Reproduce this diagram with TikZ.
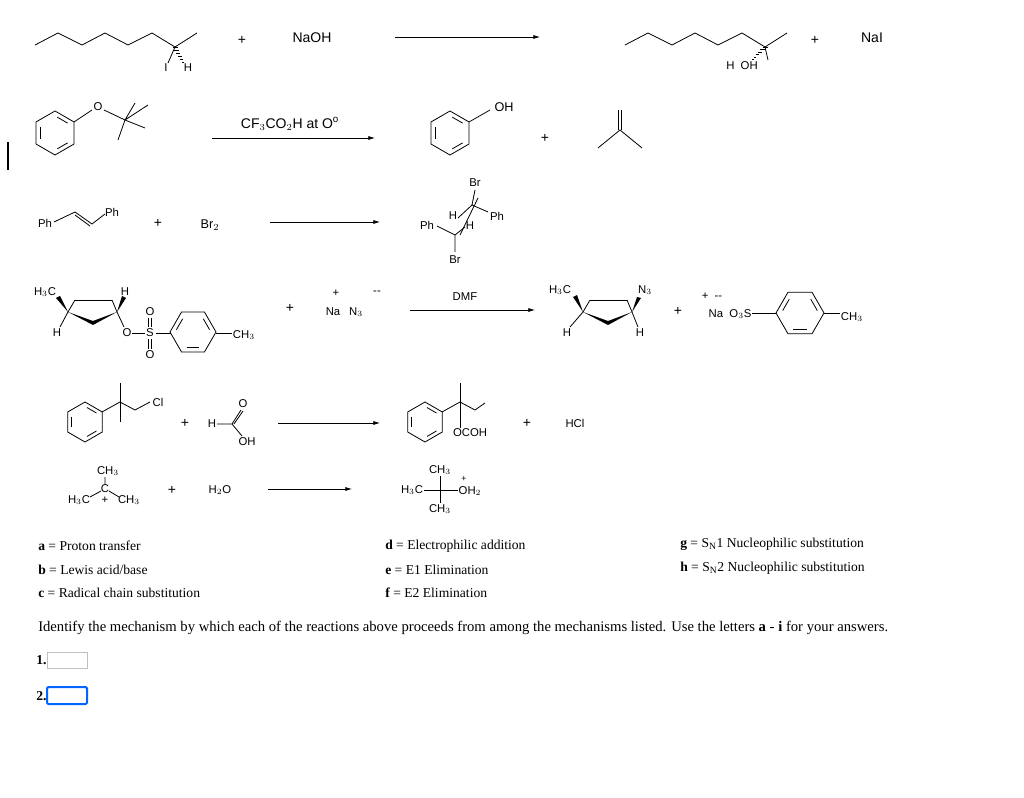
\documentclass[tikz,border=0pt]{standalone}
\usepackage{fontspec}
\setmainfont{Liberation Serif}
\newfontfamily\chem{Liberation Sans}
\usetikzlibrary{calc,arrows.meta}
\tikzset{
 x=0.75pt,y=-0.75pt,
 lab/.style={font=\chem\fontsize{8.5}{9}\selectfont,inner sep=0.5pt},
 big/.style={font=\chem\fontsize{10.5}{11}\selectfont,inner sep=1pt},
 txt/.style={font=\fontsize{10.2}{11}\selectfont,anchor=west,inner sep=0pt},
 rxn/.style={-{Latex[length=5pt,width=3pt]},line width=0.5pt},
 bond/.style={line width=0.6pt},
 benz/.pic={\draw[bond] (90:1)--(30:1)--(-30:1)--(-90:1)--(-150:1)--(150:1)--cycle;
  \foreach \a/\b in {90/30,-30/-90,-150/150}{\draw[bond] ($(\a:.78)!.15!(\b:.78)$)--($(\a:.78)!.85!(\b:.78)$);}},
 wedge/.style={fill=black}
}
\begin{document}
\begin{tikzpicture}
\fill[white] (0,0) rectangle (1024,798);
% ---------- row 1
\draw[bond] (35,45)--(58,33)--(82,45)--(105,33)--(128,45)--(152,33)--(175,47)--(197,33);
\foreach \i in {0,...,5}{\draw[line width=0.5pt] ($(175,47)!\i/6!(185,65)$)++(-2.5+\i*0.3,0)--++(5-\i*0.6,0);}
\draw[bond] (175,47)--(168,63);
\node[lab] (i1) at (166,68) {I};
\node[lab] (h1) at (188,68) {H};
\node[big] (p1) at (242,40) {+};
\node[big] (naoh) at (312,38) {NaOH};
\coordinate (a1s) at (395,37); \coordinate (a1e) at (540,37);
\draw[rxn] (a1s)--(a1e);
\draw[bond] (625,45)--(648,33)--(672,45)--(695,33)--(718,45)--(742,33)--(765,47)--(787,33);
\draw[bond] (765,47)--(768,60);
\foreach \i in {0,...,5}{\draw[line width=0.5pt] ($(765,47)!\i/6!(750,62)$)++(-2.5+\i*0.3,0)--++(5-\i*0.6,0);}
\node[lab] (h1p) at (742,66) {H\ \ OH};
\node[big] (p2) at (815,40) {+};
\node[big] (nai) at (872,38) {NaI};
% ---------- row 2
\pic[scale=22] at (55,133) {benz};
\draw[bond] (74,122)--(92,110);
\node[lab] (o2) at (98,107) {O};
\draw[bond] (104,110)--(125,120);
\draw[bond] (125,120)--(118,140) (125,120)--(148,105) (125,120)--(145,128) (125,120)--(135,103);
\draw[line width=1pt] (8,142)--(8,170);
\node[big] (cf) at (290,124) {CF$_3$CO$_2$H at O\textsuperscript{o}};
\coordinate (a2s) at (212,138); \coordinate (a2e) at (375,138);
\draw[rxn] (a2s)--(a2e);
\pic[scale=22] at (450,133) {benz};
\draw[bond] (469,122)--(490,110);
\node[lab,font=\chem\fontsize{9.5}{10}\selectfont] (oh2) at (504,107) {OH};
\node[big] (p3) at (545,138) {+};
\draw[bond] (618.5,130)--(618.5,110) (621.5,130)--(621.5,110);
\draw[bond] (620,130)--(598,148) (620,130)--(642,148);
% ---------- row 3
\node[lab] (ph1) at (45,223) {Ph};
\draw[bond] (54,222)--(75,212)--(92,224)--(105,214);
\draw[bond] (75,215)--(90,226);
\node[lab] (ph2) at (112,212) {Ph};
\node[big] (p4) at (158,223) {+};
\node[lab,font=\chem\fontsize{9.5}{10}\selectfont] (br2) at (210,225) {Br$_2$};
\coordinate (a3s) at (270,222); \coordinate (a3e) at (380,222);
\draw[rxn] (a3s)--(a3e);
\node[lab] (brt) at (475,183) {Br};
\node[lab] (ht) at (453,216) {H};
\node[lab] (pht) at (497,216) {Ph};
\node[lab] (phb) at (427,225) {Ph};
\node[lab] (hb) at (470,226) {H};
\node[lab] (brb) at (455,260) {Br};
\draw[bond] (475,190)--(472,205)--(458,218) (472,205)--(488,212);
\draw[bond] (455,252)--(455,235)--(437,226) (455,235)--(465,227);
\draw[bond] (460,235)--(478,198);
% ---------- row 4
\draw[bond] (75,300)--(112,300);
\draw[bond] (68,312)--(75,300) (112,300)--(117,312);
\fill (68,312)--(93,325)--(93,321)--cycle;
\fill (117,312)--(93,325)--(93,321)--cycle;
\fill (68,312)--(56,298)--(60,296)--cycle;
\fill (117,312)--(122,296)--(126,298)--cycle;
\draw[bond] (68,312)--(60,327);
\node[lab] (h3c) at (45,292) {H$_3$C};
\node[lab] (hr) at (125,292) {H};
\node[lab] (hl) at (57,333) {H};
\draw[bond] (117,312)--(124,327);
\node[lab] (o4) at (127,333) {O};
\node[lab] (s4) at (150,333) {S};
\draw[bond] (132,333)--(145,333) (156,333)--(171,333);
\node[lab] (ou) at (150,312) {O}; \node[lab] (od) at (150,355) {O};
\draw[bond] (148.5,318)--(148.5,327) (151.5,318)--(151.5,327) (148.5,339)--(148.5,349) (151.5,339)--(151.5,349);
\pic[scale=23,rotate=90] at (193,332) {benz};
\draw[bond] (216,333)--(232,333);
\node[lab,anchor=west] (ch34) at (232,335) {CH$_3$};
\node[big] (p5) at (290,308) {+};
\node[lab] (na) at (333,312) {Na};
\node[lab] (nap) at (336,293) {+};
\node[lab] (n3) at (356,312) {N$_3$};
\node[lab] (n3m) at (377,293) {--};
\node[lab] (dmf) at (465,297) {DMF};
\coordinate (a4s) at (410,310); \coordinate (a4e) at (535,310);
\draw[rxn] (a4s)--(a4e);
\draw[bond] (590,300)--(627,300);
\draw[bond] (583,312)--(590,300) (627,300)--(632,312);
\fill (583,312)--(608,325)--(608,321)--cycle;
\fill (632,312)--(608,325)--(608,321)--cycle;
\fill (583,312)--(573,297)--(577,295)--cycle;
\fill (632,312)--(637,297)--(641,298)--cycle;
\draw[bond] (583,312)--(570,327) (632,312)--(638,327);
\node[lab] (h3cp) at (560,290) {H$_3$C};
\node[lab] (n3p) at (645,290) {N$_3$};
\node[lab] (hpl) at (567,333) {H};
\node[lab] (hpr) at (640,333) {H};
\node[big] (p6) at (678,311) {+};
\node[lab] (nap2) at (712,296) {+\ \ --};
\node[lab] (nao) at (730,314) {Na\ \ O$_3$S};
\draw[bond] (752,313)--(776,313);
\pic[scale=24,rotate=90] at (800,313) {benz};
\draw[bond] (824,313)--(840,313);
\node[lab,anchor=west] (ch3p) at (840,317) {CH$_3$};
% ---------- row 5
\pic[scale=20] at (85,422) {benz};
\draw[bond] (102,412)--(120,402)--(135,410)--(150,402);
\draw[bond] (120,383)--(120,422);
\node[lab] (cl) at (158,402) {Cl};
\node[big] (p7) at (185,423) {+};
\node[lab] (hf) at (212,424) {H};
\draw[bond] (217,424)--(232,424)--(241,410) (234,424)--(243,411) (232,424)--(242,436);
\node[lab] (of) at (243,404) {O};
\node[lab] (ohf) at (247,442) {OH};
\coordinate (a5s) at (278,423); \coordinate (a5e) at (380,423);
\draw[rxn] (a5s)--(a5e);
\pic[scale=20] at (425,422) {benz};
\draw[bond] (442,412)--(460,402)--(475,410)--(485,403);
\draw[bond] (460,383)--(460,428);
\node[lab] (ocoh) at (470,433) {OCOH};
\node[big] (p8) at (527,423) {+};
\node[lab] (hcl) at (575,423) {HCl};
% ---------- row 6
\node[lab] (c6m) at (108,471) {CH$_3$};
\node[lab] (c6) at (105,489) {C};
\node[lab] (c6l) at (79,500) {H$_3$C};
\node[lab] (c6r) at (129,500) {CH$_3$};
\node[lab] (c6p) at (105,500) {+};
\draw[bond] (105,477)--(105,484) (101,491)--(90,497) (109,491)--(119,497);
\node[big] (p9) at (172,490) {+};
\node[lab] (h2o) at (220,490) {H$_2$O};
\coordinate (a6s) at (268,489); \coordinate (a6e) at (352,489);
\draw[rxn] (a6s)--(a6e);
\node[lab] (pm) at (440,470) {CH$_3$};
\node[lab] (pl) at (412,490) {H$_3$C};
\node[lab] (poh) at (470,491) {OH$_2$};
\node[lab,font=\chem\fontsize{6.5}{7}\selectfont] (pp) at (464,479) {+};
\node[lab] (pb) at (440,509) {CH$_3$};
\draw[bond] (440,476)--(440,503) (424,490)--(458,490);
% ---------- text
\node[txt] (ta) at (38,546) {\textbf{a} = Proton transfer};
\node[txt] (tb) at (38,570) {\textbf{b} = Lewis acid/base};
\node[txt] (tc) at (38,593) {\textbf{c} = Radical chain substitution};
\node[txt] (td) at (385,546) {\textbf{d} = Electrophilic addition};
\node[txt] (te) at (385,570) {\textbf{e} = E1 Elimination};
\node[txt] (tf) at (385,593) {\textbf{f} = E2 Elimination};
\node[txt] (tg) at (680,544) {\textbf{g} = S$_{\mathrm N}$1 Nucleophilic substitution};
\node[txt] (th) at (680,568) {\textbf{h} = S$_{\mathrm N}$2 Nucleophilic substitution};
\node[txt,font=\fontsize{11}{12}\selectfont] (ti) at (38,628) {Identify the mechanism by which each of the reactions above proceeds from among the mechanisms listed. Use the letters \textbf{a} - \textbf{i} for your answers.};
\node[txt] (n1) at (36,660) {\textbf{1.}};
\draw[gray!50] (47,652) rectangle (87,668);
\node[txt] (n2) at (36,696) {\textbf{2.}};
\draw[blue!60!cyan,line width=1.5pt,rounded corners=1pt] (47,687) rectangle (87,704);
\end{tikzpicture}
\end{document}
